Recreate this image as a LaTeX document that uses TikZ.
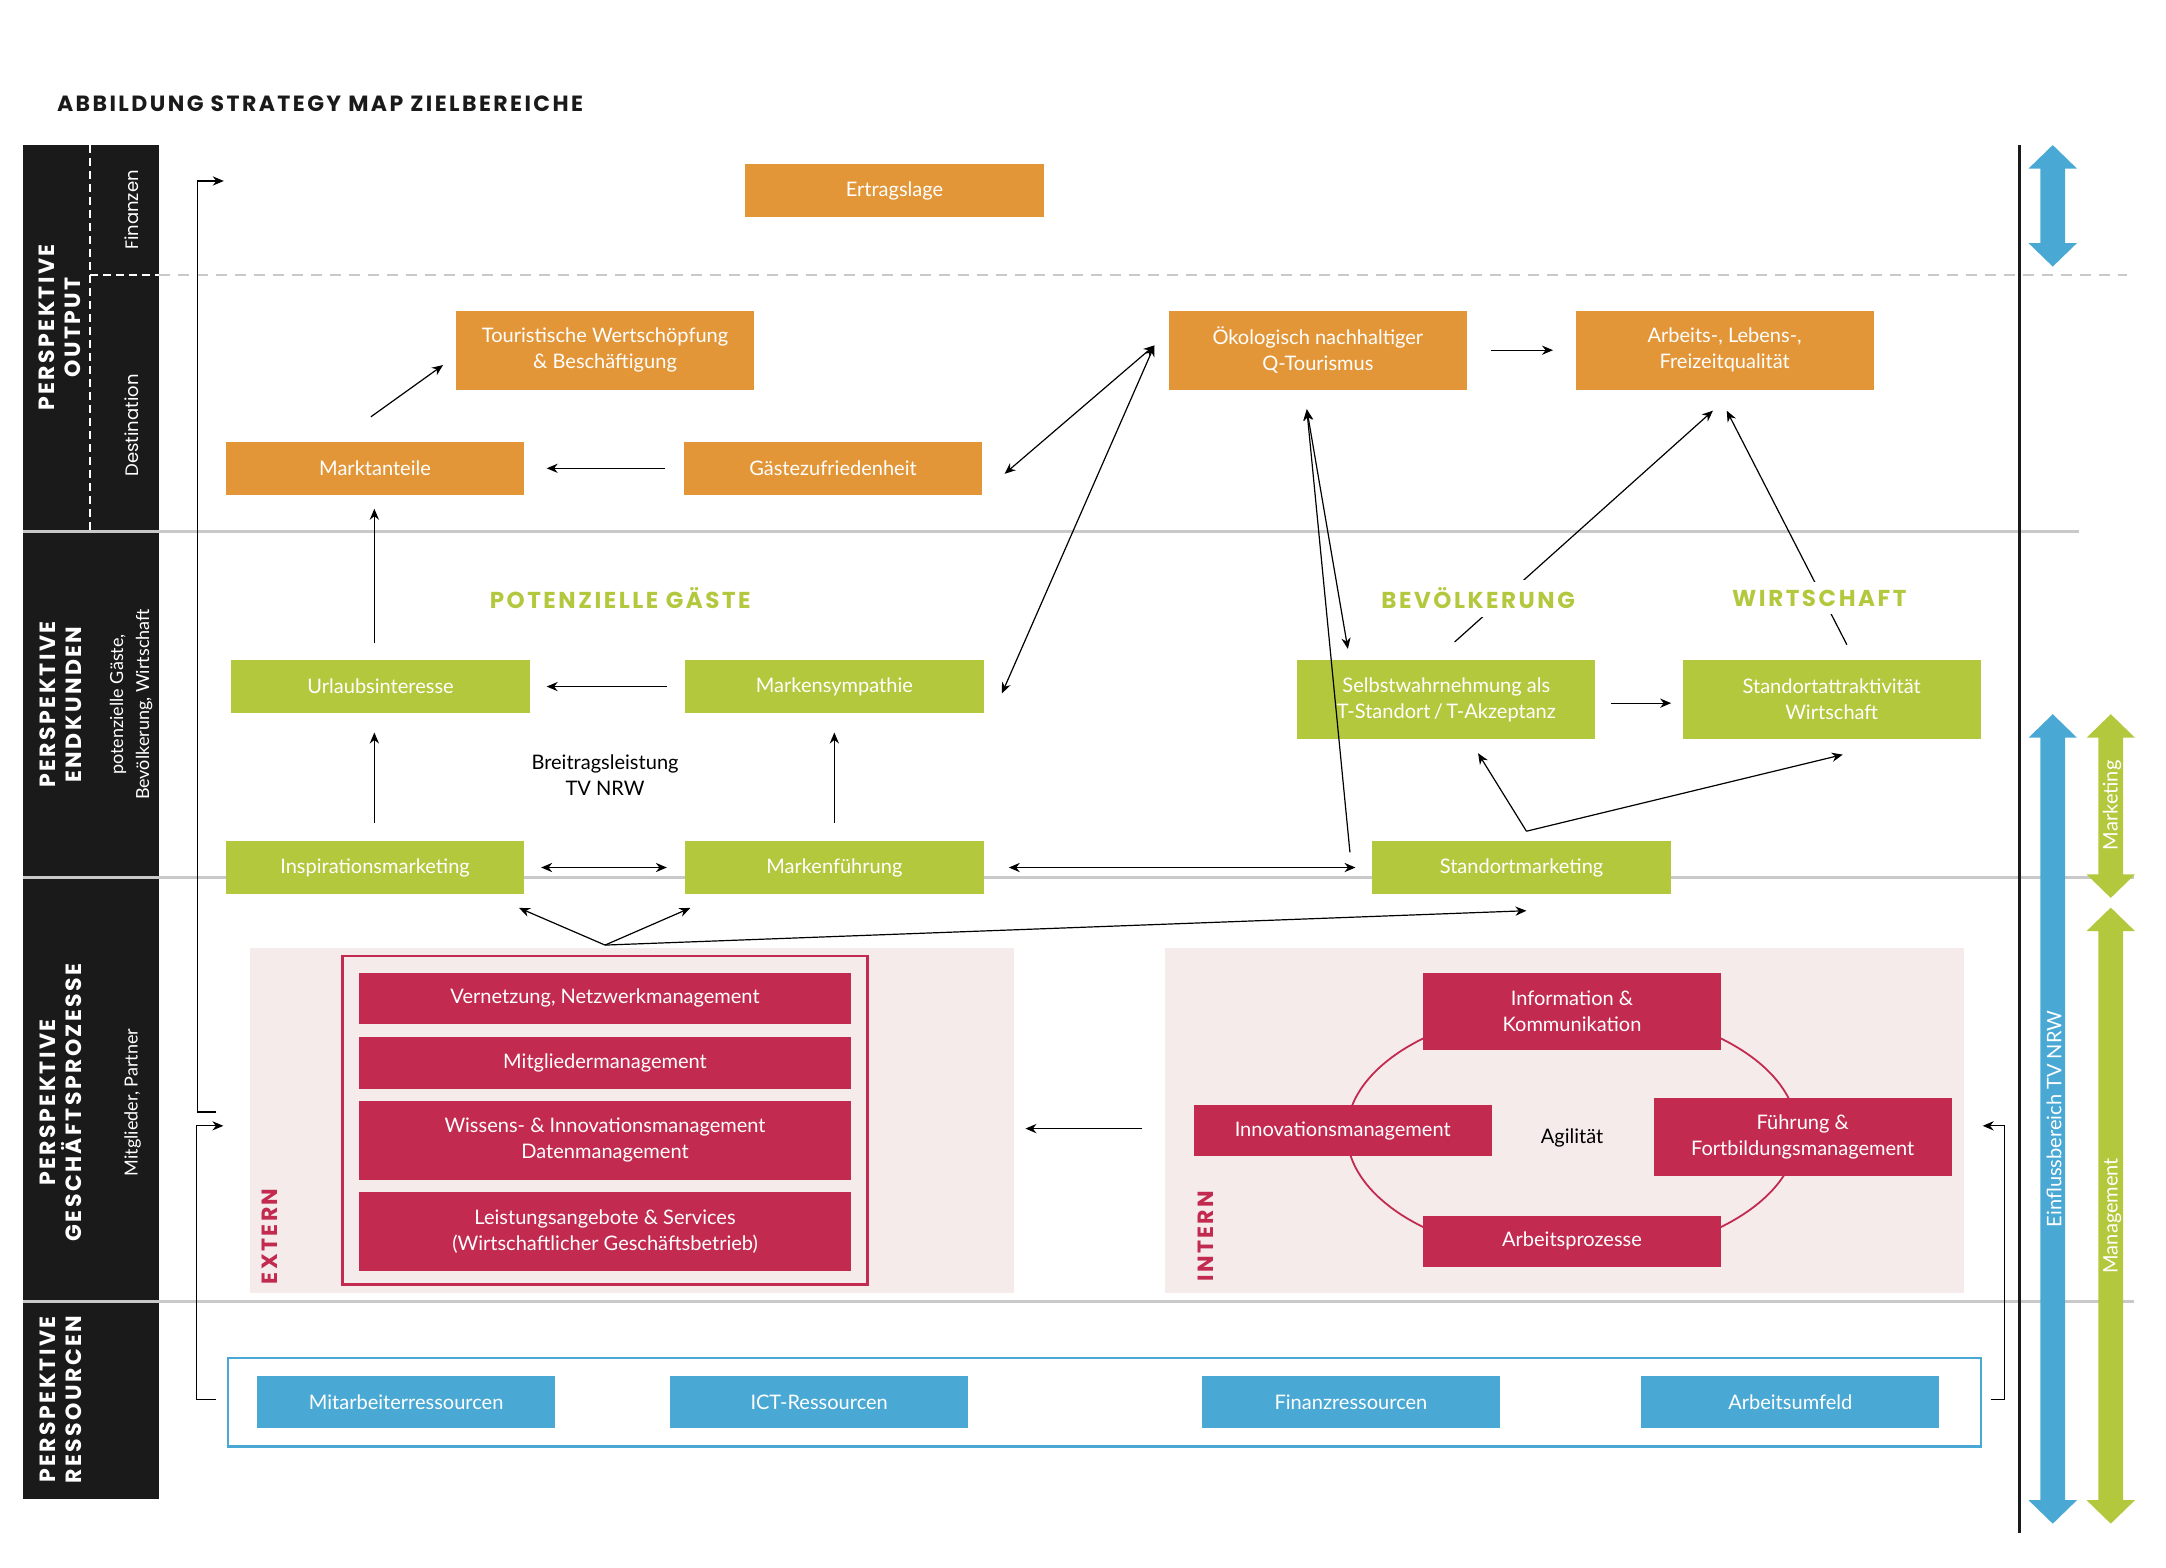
\documentclass[tikz,border=0pt]{standalone}
\usepackage{fontspec}
\setmainfont{Lato}
\newfontfamily\headfont[LetterSpace=11]{Poppins}
\newfontfamily\geofont{Poppins}
\usepackage{tikz}
\usetikzlibrary{arrows.meta,positioning,calc}

\definecolor{orangebox}{HTML}{E39638}
\definecolor{greenbox}{HTML}{B4C83E}
\definecolor{redbox}{HTML}{C22A50}
\definecolor{bluebox}{HTML}{4AA9D4}
\definecolor{panelpink}{HTML}{F5EBEA}
\definecolor{bandblack}{HTML}{1A1A1A}
\definecolor{linegrey}{HTML}{C9C9C9}

% vertical double arrow: x, y top, y bottom, colour
\newcommand{\vdarrow}[4]{%
  \fill[#4] (#1,#2) -- (#1+17.5,#2+17) -- (#1+9,#2+17) -- (#1+9,#3-17) -- (#1+17.5,#3-17)
    -- (#1,#3) -- (#1-17.5,#3-17) -- (#1-9,#3-17) -- (#1-9,#2+17) -- (#1-17.5,#2+17) -- cycle;}

\begin{document}
\begin{tikzpicture}[x=0.69pt,y=-0.69pt,
      box/.style={minimum width=149pt,minimum height=26.2pt,inner sep=1pt,align=center,text=white,font={\fontsize{10}{13}\selectfont}},
      tallbox/.style={minimum height=39.3pt},
      obox/.style={box,fill=orangebox},
      gbox/.style={box,fill=greenbox},
      rbox/.style={box,fill=redbox},
      bbox/.style={box,fill=bluebox},
      arr/.style={->,>={Stealth[length=5.5pt,width=4.6pt]},line width=0.6pt,black},
      darr/.style={arr,<->},
      band/.style={rotate=90,align=center,text=white,font={\headfont\bfseries\fontsize{11}{13}\selectfont}},
      subband/.style={rotate=90,align=center,text=white,font={\fontsize{9}{13}\selectfont}},
      heading/.style={fill=white,inner sep=4pt,text=greenbox,font={\headfont\bfseries\fontsize{11.5}{13}\selectfont}},
      sidetag/.style={rotate=90,text=redbox,font={\headfont\bfseries\fontsize{11}{12}\selectfont}},
      sepline/.style={line width=1.4pt,linegrey}]

    \useasboundingbox (0,0) rectangle (1568,1135);

    %title
    \node[anchor=west,inner sep=0pt,text=bandblack,font={\headfont\bfseries\fontsize{11}{12}\selectfont}] (title) at (41,75) {ABBILDUNG STRATEGY MAP ZIELBEREICHE};

    %black band with perspectives
    \fill[bandblack] (17,105) rectangle (115,1085);
    \draw[white,line width=0.9pt,dash pattern=on 4pt off 2.5pt] (65,105) -- (65,385);
    \draw[white,line width=0.9pt,dash pattern=on 4pt off 2.5pt] (65,199) -- (115,199);
    \node[band] (pout) at (43,237) {PERSPEKTIVE\\OUTPUT};
    \node[subband,font={\geofont\fontsize{9}{13}\selectfont}] (fin) at (95,152) {Finanzen};
    \node[subband,font={\geofont\fontsize{9}{13}\selectfont}] (dest) at (95,308) {Destination};
    \node[band] (pend) at (44,510) {PERSPEKTIVE\\ENDKUNDEN};
    \node[subband] (endsub) at (95,510) {potenzielle Gäste,\\Bevölkerung, Wirtschaft};
    \node[band] (pgp) at (44,798) {PERSPEKTIVE\\GESCHÄFTSPROZESSE};
    \node[subband] (gpsub) at (96,798) {Mitglieder, Partner};
    \node[band] (pres) at (44,1013) {PERSPEKTIVE\\RESSOURCEN};

    %separating lines
    \draw[sepline] (17,385) -- (1505,385);
    \draw[sepline] (17,635) -- (1545,635);
    \draw[sepline] (17,942) -- (1545,942);
    \draw[linegrey,line width=1.2pt,dash pattern=on 5.5pt off 4pt] (115,199) -- (1540,199);

    %right side: influence arrows
    \draw[line width=1.5pt,bandblack] (1462,105) -- (1462,1110);
    \vdarrow{1486}{105}{193}{bluebox}
    \vdarrow{1486}{517}{1103}{bluebox}
    \vdarrow{1528}{517}{650}{greenbox}
    \vdarrow{1528}{657}{1103}{greenbox}
    \node[subband,font={\fontsize{10}{12}\selectfont}] (einfl) at (1487,810) {Einflussbereich TV NRW};
    \node[subband,font={\fontsize{10}{12}\selectfont}] (mkt) at (1529,583) {Marketing};
    \node[subband,font={\fontsize{10}{12}\selectfont}] (mgmt) at (1529,880) {Management};

    %process panels
    \node[fill=panelpink,minimum width=381.6pt,minimum height=172.5pt] (extpanel) at (457.5,811) {};
    \node[fill=panelpink,minimum width=399.5pt,minimum height=172.5pt] (intpanel) at (1132.5,811) {};
    \node[draw=redbox,line width=1.2pt,minimum width=262.2pt,minimum height=164.2pt] (extbox) at (438,811) {};
    \node[sidetag] (extern) at (195,895) {EXTERN};
    \node[sidetag] (intern) at (873,895) {INTERN};
    \draw[redbox,line width=0.9pt] (1138,820) ellipse [x radius=163, y radius=91];

    %output
    \node[obox] (ertrag) at (647.5,138) {Ertragslage};
    \node[obox,tallbox] (tour) at (438,253.5) {Touristische Wertschöpfung\\\& Beschäftigung};
    \node[obox,tallbox] (oeko) at (954,253.5) {Ökologisch nachhaltiger\\Q-Tourismus};
    \node[obox,tallbox] (arbeit) at (1248.5,253.5) {Arbeits-, Lebens-,\\Freizeitqualität};
    \node[obox] (markt) at (271.5,339) {Marktanteile};
    \node[obox] (gast) at (603,339) {Gästezufriedenheit};

    %endkunden
    \node[gbox] (urlaub) at (275.5,497) {Urlaubsinteresse};
    \node[gbox] (marken) at (604,497) {Markensympathie};
    \node[gbox,tallbox] (selbst) at (1047,506.5) {Selbstwahrnehmung als\\T-Standort\,/\,T-Akzeptanz};
    \node[gbox,tallbox] (standatt) at (1326,506.5) {Standortattraktivität\\Wirtschaft};
    \node[gbox] (inspi) at (271.5,628) {Inspirationsmarketing};
    \node[gbox] (fuehr) at (604,628) {Markenführung};
    \node[gbox] (standm) at (1101.5,628) {Standortmarketing};
    \node[align=center,font={\fontsize{10}{13}\selectfont}] (beitrag) at (438,561) {Breitragsleistung\\TV NRW};

    %extern
    \node[rbox,minimum width=245.6pt,minimum height=25.5pt] (vernetz) at (438,722.5) {Vernetzung, Netzwerkmanagement};
    \node[rbox,minimum width=245.6pt,minimum height=25.5pt] (mitgl) at (438,769.5) {Mitgliedermanagement};
    \node[rbox,tallbox,minimum width=245.6pt] (wissen) at (438,825.5) {Wissens- \& Innovationsmanagement\\Datenmanagement};
    \node[rbox,tallbox,minimum width=245.6pt] (leist) at (438,891.5) {Leistungsangebote \& Services\\(Wirtschaftlicher Geschäftsbetrieb)};

    %intern
    \node[rbox,minimum height=38.6pt] (info) at (1138,732) {Information \&\\Kommunikation};
    \node[rbox,minimum height=25.5pt] (innov) at (972,818.5) {Innovationsmanagement};
    \node[rbox,minimum height=38.6pt] (fuehrung) at (1305,823) {Führung \&\\Fortbildungsmanagement};
    \node[rbox,minimum height=25.5pt] (arbproz) at (1138,898.5) {Arbeitsprozesse};
    \node[font={\fontsize{10}{13}\selectfont}] (agil) at (1138,824) {Agilität};

    %ressourcen
    \node[draw=bluebox,line width=1.3pt,minimum width=875.6pt,minimum height=44.2pt] (resframe) at (799.5,1015) {};
    \node[bbox] (mitarb) at (294,1015) {Mitarbeiterressourcen};
    \node[bbox] (ict) at (593,1015) {ICT-Ressourcen};
    \node[bbox] (finres) at (978,1015) {Finanzressourcen};
    \node[bbox] (umfeld) at (1296,1015) {Arbeitsumfeld};

    %connectors
    \coordinate (finin) at (162,131);
    \coordinate (oekoleft) at ($(oeko.west)+(-10,-3.5)$);
    \coordinate (oekobot) at ($(oeko.south)+(-8,14)$);
    \coordinate (smtop) at ($(standm.north)+(3.5,-7)$);
    \coordinate (exttop) at ($(extbox.north)+(0,-7)$);

    \draw[arr] ($(gast.west)+(-13,0)$) -- ($(markt.east)+(16,0)$);
    \draw[arr] ($(markt.north)+(-3,-18)$) -- ($(tour.south west)+(-9,-18)$);
    \draw[arr] ($(urlaub.north)+(-4.5,-12)$) -- ($(markt.south)+(-0.5,10)$);
    \draw[arr] ($(marken.west)+(-13,0)$) -- ($(urlaub.east)+(12,0)$);
    \draw[arr] ($(inspi.north)+(-0.5,-13)$) -- ($(urlaub.south)+(-4.5,14)$);
    \draw[arr] ($(fuehr.north)+(0,-13)$) -- ($(marken.south)+(0,14)$);
    \draw[darr] ($(inspi.east)+(12,0)$) -- ($(fuehr.west)+(-13,0)$);
    \draw[darr] ($(fuehr.east)+(18,0)$) -- ($(standm.west)+(-12,0)$);
    \draw[darr] ($(gast.east)+(16,4)$) -- (oekoleft);
    \draw[darr] ($(marken.east)+(13,5)$) -- (oekoleft);
    \draw[arr] ($(oeko.east)+(17,0)$) -- ($(arbeit.west)+(-16,0)$);
    \draw[arr] ($(selbst.east)+(11,2.5)$) -- ($(standatt.west)+(-8,2.5)$);
    \draw[darr] (oekobot) -- ($(selbst.north west)+(37,-8)$);
    \draw[arr] ($(standm.west)+(-16,-11)$) -- (oekobot);
    \draw[arr] ($(selbst.north)+(6,-13)$) -- ($(arbeit.south)+(-8.5,15)$);
    \draw[arr] ($(standatt.north)+(11,-11)$) -- ($(arbeit.south)+(1.5,15)$);
    \draw[arr] (smtop) -- ($(selbst.south)+(23,10)$);
    \draw[arr] (smtop) -- ($(standatt.south)+(8,11)$);
    \draw[arr] (exttop) -- ($(inspi.south east)+(-4,10)$);
    \draw[arr] (exttop) -- ($(fuehr.south west)+(4,10)$);
    \draw[arr] (exttop) -- ($(standm.south)+(3.5,12)$);
    \draw[arr] ($(intpanel.west)+(-16,6)$) -- ($(extpanel.east)+(8,6)$);
    \draw[arr] ($(extpanel.west)+(-24,-6)$) -- ++(-14,0) |- (finin);
    \draw[arr] ($(resframe.west)+(-8,-2)$) -- ++(-14,0) |- ($(extpanel.west)+(-19,4)$);
    \draw[arr] ($(resframe.east)+(6,-2)$) -- ++(10,0) |- ($(intpanel.east)+(13,4)$);

    %target groups
    \node[heading] (gaeste) at (449,433) {POTENZIELLE GÄSTE};
    \node[heading] (bevoelk) at (1070,433) {BEVÖLKERUNG};
    \node[heading] (wirt) at (1317,433) {WIRTSCHAFT};

\end{tikzpicture}
\end{document}
